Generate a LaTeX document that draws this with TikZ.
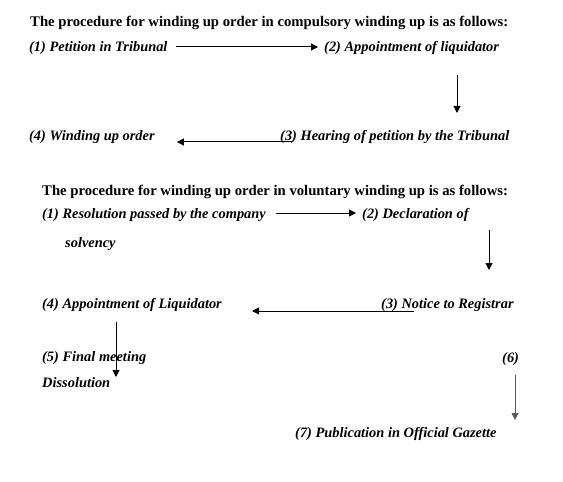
\documentclass[tikz,border=0pt]{standalone}
\usepackage{fontspec}
\setmainfont{Liberation Serif}
\usetikzlibrary{arrows.meta}

\tikzset{
  head/.style={anchor=base west, inner sep=0pt, font=\fontsize{14.7bp}{17bp}\selectfont\bfseries},
  item/.style={anchor=base west, inner sep=0pt, font=\fontsize{14.4bp}{17bp}\selectfont\bfseries\itshape},
  arr/.style={-{Triangle[length=7bp,width=7bp]}, line width=1bp},
}

\begin{document}
\begin{tikzpicture}[x=1bp,y=-1bp]
\useasboundingbox (0,0) rectangle (563,482);

% compulsory winding up
\node[head] (c0) at (30,27) {The procedure for winding up order in compulsory winding up is as follows:};
\node[item] (c1) at (29,52) {(1) Petition in Tribunal};
\node[item] (c2) at (324,52) {(2) Appointment of liquidator};
\node[item] (c3) at (280,141) {(3) Hearing of petition by the Tribunal};
\node[item] (c4) at (29,141) {(4) Winding up order};
\coordinate (c2s) at (457,75);
\coordinate (c2e) at (457,113);

\draw[arr] ([shift={(8,-5)}]c1.base east) -- ([shift={(-6,-5)}]c2.base west);
\draw[arr] (c2s) -- (c2e);
\draw[arr] ([shift={(13,1)}]c3.base west) -- ([shift={(22,1)}]c4.base east);

% voluntary winding up
\node[head] (v0) at (42,196) {The procedure for winding up order in voluntary winding up is as follows:};
\node[item] (v1) at (42,219) {(1) Resolution passed by the company};
\node[item] (v2) at (362,219) {(2) Declaration of};
\node[item] (vs) at (65,247) {solvency};
\node[item] (v4) at (42,308) {(4) Appointment of Liquidator};
\node[item] (v3) at (381,308) {(3) Notice to Registrar};
\node[item] (v5) at (42,361) {(5) Final meeting};
\node[item] (vd) at (42,387) {Dissolution};
\node[item] (v6) at (502,362) {(6)};
\node[item] (v7) at (295,437) {(7) Publication in Official Gazette};
\coordinate (v2s) at (489,230);
\coordinate (v2e) at (489,270);
\coordinate (v4s) at (116,322);
\coordinate (v4e) at (116,377);
\coordinate (v6s) at (515,375);
\coordinate (v6e) at (515,420);

\draw[arr] ([shift={(10,-6)}]v1.base east) -- ([shift={(-6,-6)}]v2.base west);
\draw[arr] (v2s) -- (v2e);
\draw[arr] ([shift={(33,3)}]v3.base west) -- ([shift={(30,3)}]v4.base east);
\draw[arr] (v4s) -- (v4e);
\draw[arr, black!65] (v6s) -- (v6e);
\end{tikzpicture}
\end{document}
